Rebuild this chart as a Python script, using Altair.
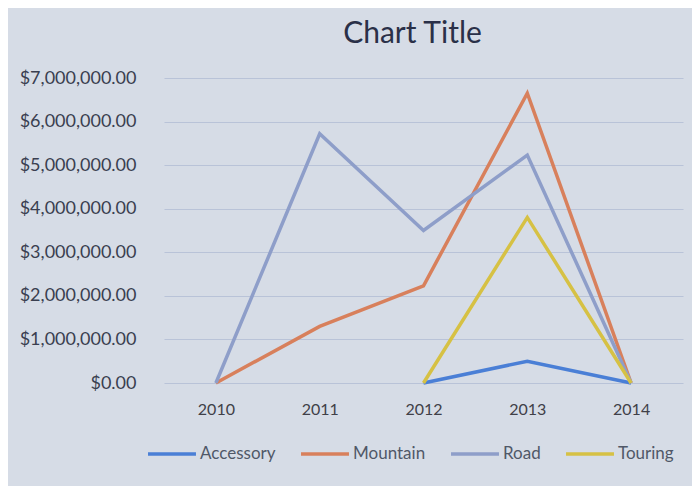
import altair as alt
import pandas as pd

years = ["2010", "2011", "2012", "2013", "2014"]
accessory = [None, None, 0, 500000, 0]
mountain = [0, 1300000, 2230000, 6650000, 0]
road = [0, 5720000, 3500000, 5230000, 0]
touring = [None, None, 0, 3800000, 0]

series = {"Accessory": accessory, "Mountain": mountain, "Road": road, "Touring": touring}
rows = []
for name, vals in series.items():
    for y, v in zip(years, vals):
        if v is not None:
            rows.append({"Year": y, "Series": name, "Sales": v})
df = pd.DataFrame(rows)

colors = ["#4a7fd6", "#d8805c", "#8e9ec9", "#d6c144"]
FONT = "Lato"

chart = alt.Chart(df).mark_line(strokeWidth=3.5).encode(
    x=alt.X("Year:N", sort=years, scale=alt.Scale(type="point", padding=0.5),
            axis=alt.Axis(title=None, labelAngle=0, domain=False, ticks=False, grid=False,
                          labelFontSize=16, labelColor="#404048", labelFont=FONT, labelPadding=18)),
    y=alt.Y("Sales:Q", scale=alt.Scale(domain=[0, 7000000]),
            axis=alt.Axis(title=None, values=[0, 1000000, 2000000, 3000000, 4000000, 5000000, 6000000, 7000000],
                          format="$,.2f", domain=False, ticks=False, gridColor="#b9c3d8", gridWidth=1,
                          labelFontSize=18, labelColor="#3a3f50", labelFont=FONT, labelPadding=28)),
    color=alt.Color("Series:N", scale=alt.Scale(domain=list(series.keys()), range=colors),
                    legend=alt.Legend(title=None, orient="none", direction="horizontal", columns=4,
                                      legendX=-18, legendY=350, symbolType="stroke", symbolSize=2300,
                                      symbolStrokeWidth=3.5, labelFontSize=17, labelFont=FONT,
                                      labelColor="#505868", columnPadding=18, labelOffset=2)),
).properties(
    width=519, height=305,
    title=alt.TitleParams("Chart Title", fontSize=30, font=FONT, fontWeight="normal",
                          color="#2a3048", anchor="middle", dx=-11, offset=20),
    padding={"left": 156, "top": 70, "right": 9, "bottom": 103},
    autosize="none",
    background="#d6dce6",
).configure_view(stroke=None)

chart.save("out.html", embed_options={"renderer": "svg", "actions": False})
